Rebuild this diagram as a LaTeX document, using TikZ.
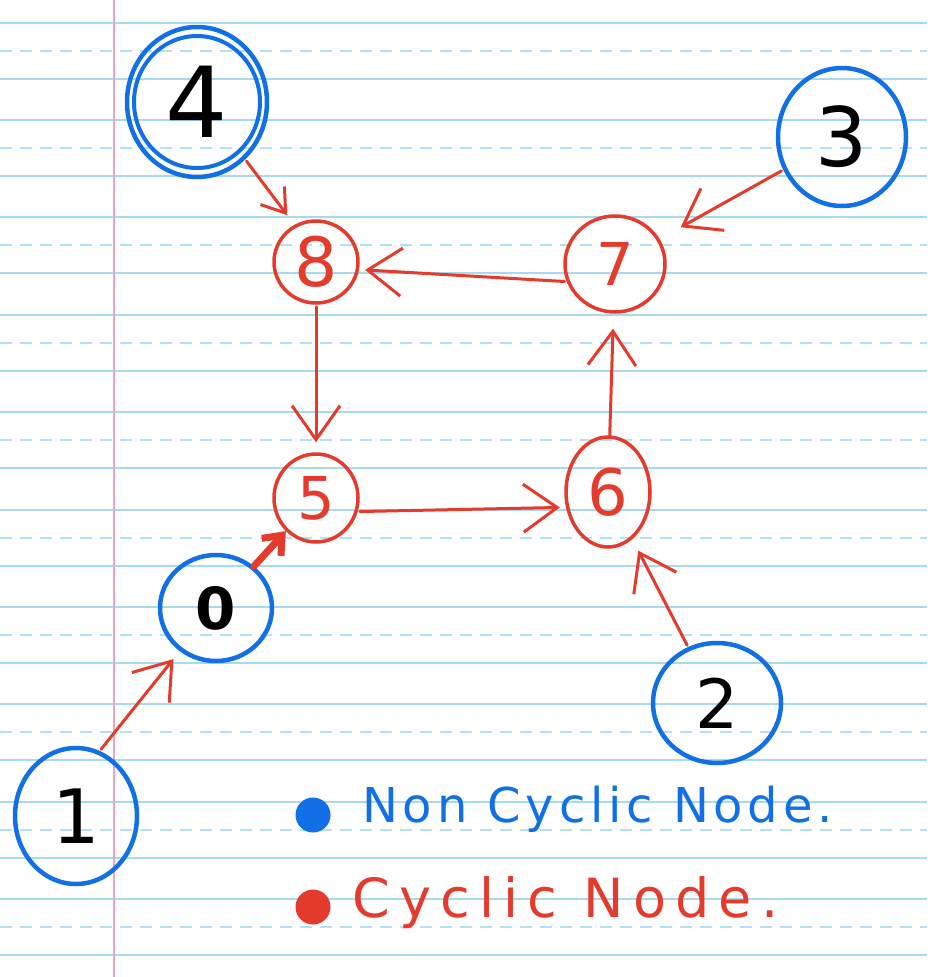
\documentclass[tikz,border=0pt]{standalone}
\usepackage{fontspec}
\setmainfont{DejaVu Sans}
\usetikzlibrary{arrows.meta,shapes.geometric}
\definecolor{Blue}{HTML}{1170E6}
\definecolor{Red}{HTML}{E53B2C}
\definecolor{Rule}{HTML}{A6DAF1}
\definecolor{Margin}{HTML}{EAA6C3}
\tikzset{
  plain/.style={ellipse,draw=Blue,line width=4.5pt,inner sep=0pt,text=black},
  cyclic/.style={ellipse,draw=Red,line width=3.5pt,inner sep=0pt,text=Red},
  digits/.style={font=\fontsize{#1}{#1}\selectfont},
  arrow/.style={-{Straight Barb[length=34pt,width=48pt]},draw=Red,line width=3pt,
    line cap=round,shorten <=2pt,shorten >=10pt},
  keydot/.style={circle,inner sep=0pt,minimum size=35pt},
  keytext/.style={anchor=base west,inner sep=0pt}
}

\begin{document}
\begin{tikzpicture}[x=1pt,y=-1pt]
    \useasboundingbox (0,0) rectangle (927,977);
    % ruled paper
    \fill[white] (0,0) rectangle (927,977);
    \foreach \k in {0,...,9}{
      \pgfmathsetmacro\yb{22.7+97.37*\k}
      \draw[Rule,line width=2pt] (0,\yb) -- (927,\yb);
      \draw[Rule!85,line width=2pt,dash pattern=on 12pt off 8pt] (0,\yb+28) -- (927,\yb+28);
      \draw[Rule,line width=2pt] (0,\yb+56) -- (927,\yb+56);
    }
    \draw[Margin,line width=1.2pt] (114,0) -- (114,977);

    % nodes
    \node[plain,minimum width=140pt,minimum height=150pt,digits=98] (v4) at (197,102) {4};
    \draw[Blue,line width=4pt] (v4.center) ellipse [x radius=63pt,y radius=66pt];
    \node[plain,minimum width=128pt,minimum height=138pt,digits=82] (v3) at (842,137) {3};
    \node[cyclic,minimum width=84pt,minimum height=82pt,digits=68] (v8) at (316,262) {8};
    \node[cyclic,minimum width=100pt,minimum height=96pt,digits=59] (v7) at (615,264) {7};
    \node[cyclic,minimum width=84pt,minimum height=88pt,digits=59] (v5) at (316,498) {5};
    \node[cyclic,minimum width=84pt,minimum height=110pt,digits=64] (v6) at (608,492) {6};
    \node[plain,minimum width=112pt,minimum height=106pt,font=\fontsize{58}{58}\selectfont\bfseries] (v0) at (216,608) {0};
    \node[plain,minimum width=128pt,minimum height=120pt,digits=68] (v2) at (717,703) {2};
    \node[plain,minimum width=122pt,minimum height=136pt,digits=75] (v1) at (76,816) {1};

    % edges
    \draw[arrow,-{Straight Barb[length=22pt,width=30pt]},shorten >=12pt] (v4.-50) -- (v8.120);
    \draw[arrow,shorten >=24pt] (v3) -- (v7);
    \draw[arrow,shorten >=6pt] (v7.200) -- (v8.-10);
    \draw[arrow] (v8) -- (v5);
    \draw[arrow,shorten >=6pt] (v5.-18) -- (v6.200);
    \draw[arrow,shorten <=0pt,shorten >=15pt] (v6) -- (v7);
    \draw[arrow,shorten >=13pt] (v2) -- (v6);
    \draw[arrow,line width=7pt,-{Straight Barb[length=16pt,width=26pt]},shorten <=0pt,shorten >=0pt] (v0) -- (v5);
    \draw[arrow] (v1.70) -- (v0.-130);

    % legend
    \node[keydot,fill=Blue] (dotB) at (313,815) {};
    \node[keydot,fill=Red] (dotR) at (313,907) {};
    \node[keytext,text=Blue,font=\fontsize{48}{50}\selectfont\addfontfeature{LetterSpace=10}] (keyB) at (362,822) {Non Cyclic Node.};
    \node[keytext,text=Red,font=\fontsize{54}{56}\selectfont\addfontfeature{LetterSpace=17}] (keyR) at (352,917) {Cyclic Node.};
  \end{tikzpicture}
\end{document}
